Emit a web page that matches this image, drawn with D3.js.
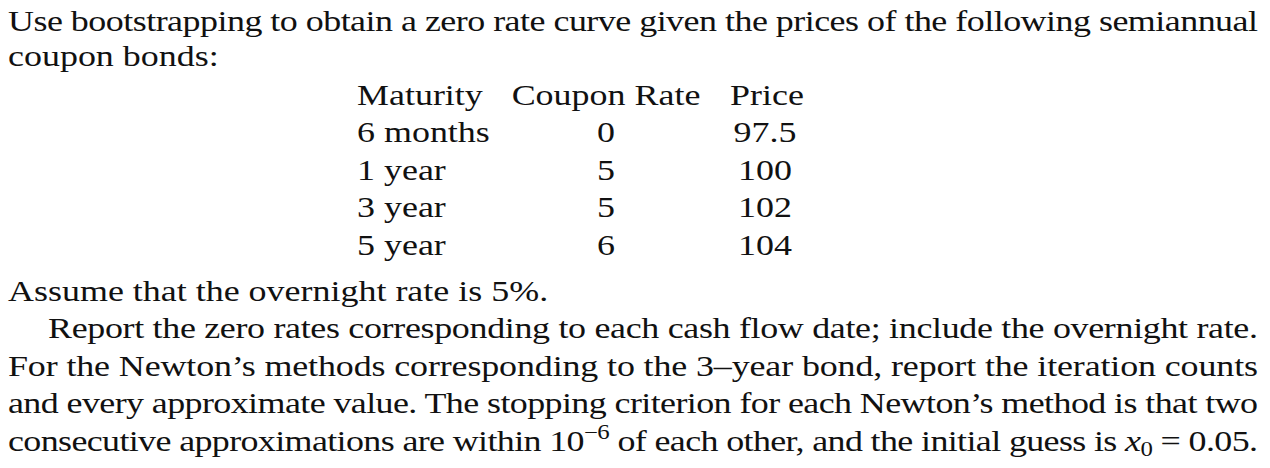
<!DOCTYPE html>
<html><head><meta charset="utf-8">
<script src="https://cdn.jsdelivr.net/npm/d3@7"></script>
<style>body{margin:0;background:#fff}text{font-family:"Liberation Serif",serif;fill:#111}</style>
</head><body><svg id="doc"></svg>
<script>
const maturities = ["6 months", "1 year", "3 year", "5 year"];
const coupons = [0, 5, 5, 6];
const prices = [97.5, 100, 102, 104];
const headers = ["Maturity", "Coupon Rate", "Price"];

const sx = 1.24;   // widen the narrow Liberation glyphs toward Computer Modern proportions
const svg = d3.select("#doc").attr("width", 1270).attr("height", 468);
const g = svg.append("g").attr("transform", `scale(${sx},1)`);
const fs = 29;

// paragraph lines: [x, baseline, width or null, parts]
const lines = [
    [8, 31, 1250, [["Use bootstrapping to obtain a zero rate curve given the prices of the following semiannual"]]],
    [8, 66, null, [["coupon bonds:"]]],
    [8, 301, null, [["Assume that the overnight rate is 5%."]]],
    [48, 338, 1210, [["Report the zero rates corresponding to each cash flow date; include the overnight rate."]]],
    [8, 376, 1250, [["For the Newton\u2019s methods corresponding to the 3\u2013year bond, report the iteration counts"]]],
    [8, 413, 1250, [["and every approximate value. The stopping criterion for each Newton\u2019s method is that two"]]],
    [8, 451, 1250, [["consecutive approximations are within 10"], ["\u22126", "sup"],
        [" of each other, and the initial guess is "], ["x", "it"], ["0", "sub"], [" = 0.05."]]]
];

lines.forEach(([x, y, w, parts]) => {
    const t = g.append("text").attr("x", x / sx).attr("y", y).attr("font-size", fs);
    parts.forEach(([s, k]) => {
        const sp = t.append("tspan").text(s);
        if (k === "sup") sp.attr("font-size", 20).attr("baseline-shift", 12);
        if (k === "sub") sp.attr("font-size", 20).attr("baseline-shift", -5);
        if (k === "it") sp.attr("font-style", "italic");
    });
    if (w) t.attr("textLength", w / sx).attr("lengthAdjust", "spacing");
});

// table
const rowY = d3.scaleLinear().domain([0, 4]).range([105, 255]);
const colX = [357, 606, 730];
g.append("g").selectAll("text").data(headers).join("text")
    .attr("x", (d, i) => colX[i] / sx).attr("y", rowY(0)).attr("font-size", fs)
    .attr("text-anchor", (d, i) => i === 1 ? "middle" : "start").text(d => d);
const body = g.append("g");
maturities.forEach((m, i) => {
    const y = rowY(i + 1);
    body.append("text").attr("x", colX[0] / sx).attr("y", y).attr("font-size", fs).text(m);
    body.append("text").attr("x", colX[1] / sx).attr("y", y).attr("font-size", fs)
        .attr("text-anchor", "middle").text(coupons[i]);
    body.append("text").attr("x", 765 / sx).attr("y", y).attr("font-size", fs)
        .attr("text-anchor", "middle").text(prices[i]);
});
</script></body></html>
